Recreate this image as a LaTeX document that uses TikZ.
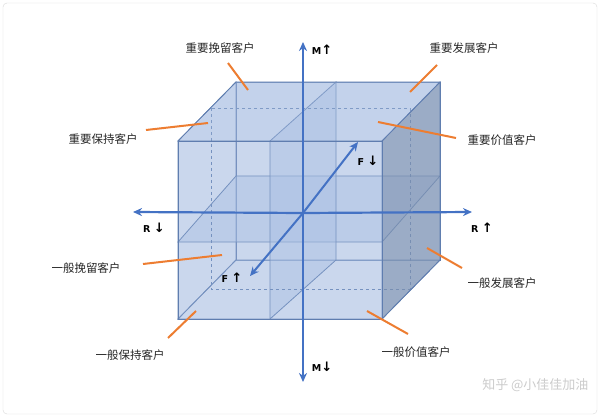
\documentclass[tikz,border=0pt]{standalone}
\usepackage{fontspec}
\newfontfamily\cjk{Noto Sans CJK SC}
\newfontfamily\dv{DejaVu Sans}
\usetikzlibrary{arrows.meta}
\definecolor{fc}{RGB}{170,192,228}
\definecolor{ec}{RGB}{95,125,175}
\definecolor{rc}{RGB}{130,150,180}
\newcommand{\myar}[1]{{\fontsize{13}{12}\selectfont #1}}
\begin{document}
\begin{tikzpicture}[x=1pt,y=-1pt,
  face/.style={fill=fc,fill opacity=0.45,draw=ec,line width=0.8pt},
  axis/.style={draw={rgb,255:red,68;green,114;blue,196},line width=2.2pt,-{Stealth[length=9pt,width=8pt]}},
  lead/.style={draw={rgb,255:red,237;green,125;blue,49},line width=2pt},
  lab/.style={font=\cjk\fontsize{11.5}{13}\selectfont,text=black!85},
  alab/.style={font=\dv\bfseries\fontsize{9.5}{12}\selectfont}]
\useasboundingbox (0,0) rectangle (600,417);
\fill[white] (0,0) rectangle (600,417);
\draw[black!15,rounded corners=4pt] (3,3) rectangle (597,414);
\filldraw[face] (236,82) rectangle (440,260);
\filldraw[face] (178,141) -- (236,82) -- (236,260) -- (178,319) -- cycle;
\filldraw[face] (178,319) -- (236,260) -- (440,260) -- (382,319) -- cycle;
\filldraw[face] (178,242) -- (236,176) -- (440,176) -- (382,242) -- cycle;
\filldraw[face] (270,141) -- (336,82) -- (336,260) -- (270,319) -- cycle;
\draw[dashed,ec,line width=0.8pt] (211,108) rectangle (410,289);
\filldraw[face,fill=rc,fill opacity=0.7] (382,141) -- (440,82) -- (440,260) -- (382,319) -- cycle;
\filldraw[face] (178,141) -- (236,82) -- (440,82) -- (382,141) -- cycle;
\filldraw[face,fill opacity=0.3] (178,141) rectangle (382,319);
\coordinate (o) at (303,213);
\coordinate (mt) at (303,42); \coordinate (mb) at (303,382);
\coordinate (rl) at (133,212); \coordinate (rr) at (472,212);
\coordinate (fb) at (358,142); \coordinate (ff) at (250,276);
\draw[axis] (o) -- (mt); \draw[axis] (o) -- (mb);
\draw[axis] (o) -- (rl); \draw[axis] (o) -- (rr);
\draw[axis,line width=2pt] (o) -- (fb); \draw[axis,line width=2pt] (o) -- (ff);
\node[alab] (lm1) at (322,50) {M\myar{↑}};
\node[alab] (lm2) at (322,367) {M\myar{↓}};
\node[alab] (lr1) at (154,228) {R \myar{↓}};
\node[alab] (lr2) at (482,228) {R \myar{↑}};
\node[alab] (lf1) at (368,161) {F \myar{↓}};
\node[alab] (lf2) at (232,278) {F \myar{↑}};
\node[lab] (a) at (220,48) {重要挽留客户}; \coordinate (a1) at (228,63); \coordinate (a2) at (248,90);
\node[lab] (b) at (464,48) {重要发展客户}; \coordinate (b1) at (437,65); \coordinate (b2) at (410,92);
\node[lab] (c) at (103,139) {重要保持客户}; \coordinate (c1) at (146,130); \coordinate (c2) at (208,123);
\node[lab] (d) at (502,140) {重要价值客户}; \coordinate (d1) at (378,122); \coordinate (d2) at (456,138);
\node[lab] (e) at (86,268) {一般挽留客户}; \coordinate (e1) at (143,264); \coordinate (e2) at (222,255);
\node[lab] (f) at (502,283) {一般发展客户}; \coordinate (f1) at (427,248); \coordinate (f2) at (462,268);
\node[lab] (g) at (130,355) {一般保持客户}; \coordinate (g1) at (168,338); \coordinate (g2) at (196,311);
\node[lab] (h) at (416,352) {一般价值客户}; \coordinate (h1) at (367,311); \coordinate (h2) at (408,334);
\foreach \p in {a,b,c,d,e,f,g,h} {\draw[lead] (\p1) -- (\p2);}
\node[font=\cjk\fontsize{13}{15}\selectfont,text=black!20,anchor=east] (wm) at (592,385) {知乎 @小佳佳加油};
\end{tikzpicture}
\end{document}
